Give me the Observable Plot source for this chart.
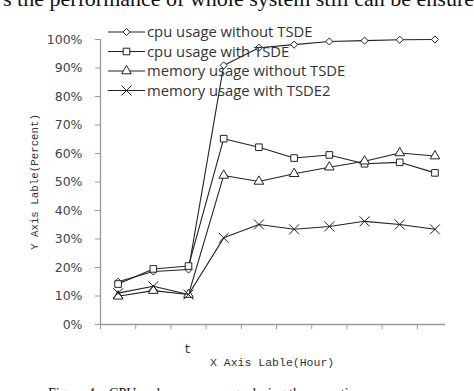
<!DOCTYPE html>
<html>
<head>
<meta charset="utf-8">
<script src="https://cdn.jsdelivr.net/npm/d3@7"></script>
<script src="https://cdn.jsdelivr.net/npm/@observablehq/plot@0.6"></script>
<style>
  html, body { margin: 0; padding: 0; background: #fff; }
  #wrap { position: relative; width: 474px; height: 391px; overflow: hidden; background: #fff; }
  #chart { position: absolute; left: 0; top: 0; }
  .abs { position: absolute; white-space: nowrap; line-height: 1; }
  #toptext { left: 3px; top: -12px; font-family: "Liberation Serif", serif; font-size: 22px; color: #111; }
  #caption { left: 48px; top: 387px; font-family: "Liberation Serif", serif; font-size: 14px; color: #111; }
  #tlabel { left: 184px; top: 344px; font-family: "Liberation Mono", monospace; font-size: 12px; color: #333; }
  #xlabel { left: 210px; top: 357px; font-family: "Liberation Mono", monospace; font-size: 11.5px; color: #333; }
  #ylabel { left: 35px; top: 182px; transform: translate(-50%, -50%) rotate(-90deg); font-family: "Liberation Mono", monospace; font-size: 10.8px; color: #333; }
  #legend { position: absolute; left: 0; top: 0; }
</style>
</head>
<body>
<div id="wrap">
  <div id="chart"></div>
  <div id="toptext" class="abs">s the performance of whole system still can be ensured</div>
  <div id="tlabel" class="abs">t</div>
  <div id="xlabel" class="abs">X Axis Lable(Hour)</div>
  <div id="ylabel" class="abs">Y Axis Lable(Percent)</div>
  <div id="caption" class="abs">Figure 4.&nbsp;&nbsp;&nbsp;CPU and memory usage during the operation</div>
</div>
<script>
// ---- data ----
const hours = [1, 2, 3, 4, 5, 6, 7, 8, 9, 10];
const seriesNames = ["cpu usage without TSDE", "cpu usage with TSDE", "memory usage without TSDE", "memory usage with TSDE2"];
const cpuWithout = [0.15, 0.186, 0.193, 0.909, 0.971, 0.982, 0.993, 0.996, 0.999, 1.0];
const cpuWith    = [0.142, 0.195, 0.205, 0.652, 0.622, 0.584, 0.595, 0.564, 0.569, 0.532];
const memWithout = [0.099, 0.119, 0.105, 0.523, 0.502, 0.529, 0.552, 0.573, 0.602, 0.591];
const memWith    = [0.11, 0.134, 0.105, 0.304, 0.351, 0.334, 0.344, 0.362, 0.351, 0.334];
const yTicks = [0, 0.1, 0.2, 0.3, 0.4, 0.5, 0.6, 0.7, 0.8, 0.9, 1.0];
const xTickBounds = [0.5, 1.5, 2.5, 3.5, 4.5, 5.5, 6.5, 7.5, 8.5, 9.5];

const seriesValues = [cpuWithout, cpuWith, memWithout, memWith];
const symbols = ["diamond2", "square2", "triangle2", "times"];
const radii = [3.2, 4.2, 4.6, 4.6];

const rows = [];
seriesValues.forEach((vals, si) => vals.forEach((v, i) => rows.push({series: seriesNames[si], si, hour: hours[i], value: v})));

const axisGray = "#9a9a9a";
const lineColor = "#222";

const marks = [
  Plot.axisY({ticks: yTicks, tickFormat: d3.format(".0%"), tickSize: 5, tickPadding: 13,
    stroke: axisGray, fill: "#444", fontSize: 12.5, fontFamily: "DejaVu Sans, sans-serif", label: null}),
  Plot.axisX({ticks: xTickBounds, tickFormat: () => "", tickSize: 5, stroke: axisGray, label: null}),
  Plot.ruleX([0.5], {y1: 0, y2: 1, stroke: axisGray, strokeWidth: 1.3}),
  Plot.ruleY([0], {x1: 0.5, x2: 10.3, stroke: axisGray, strokeWidth: 1.3}),
];
seriesNames.forEach((name, si) => {
  const d = rows.filter(r => r.si === si);
  marks.push(Plot.line(d, {x: "hour", y: "value", stroke: lineColor, strokeWidth: 1.1}));
  marks.push(Plot.dot(d, {x: "hour", y: "value", symbol: () => symbols[si], r: radii[si],
    stroke: lineColor, fill: si === 3 ? "none" : "white", strokeWidth: 1}));
});

const plot = Plot.plot({
  width: 474,
  height: 391,
  marginLeft: 100,
  marginRight: 29,
  marginTop: 39,
  marginBottom: 67,
  x: {type: "linear", domain: [0.5, 10.3], axis: null},
  y: {domain: [0, 1], axis: null},
  style: {background: "transparent", overflow: "visible"},
  marks
});
document.getElementById("chart").appendChild(plot);

// ---- legend (overlaid at top of plot area) ----
const legendRowsY = [32, 51.5, 71, 90.5];
const lg = d3.select("#wrap").append("svg").attr("id", "legend").attr("width", 474).attr("height", 110);
const d3sym = {diamond2: d3.symbolDiamond2, square2: d3.symbolSquare2, triangle2: d3.symbolTriangle2, times: d3.symbolTimes};
seriesNames.forEach((name, si) => {
  const y = legendRowsY[si];
  lg.append("line").attr("x1", 108).attr("x2", 145).attr("y1", y).attr("y2", y)
    .attr("stroke", lineColor).attr("stroke-width", 1.1);
  const r = radii[si];
  lg.append("path").attr("transform", `translate(126.5,${y})`)
    .attr("d", d3.symbol(d3sym[symbols[si]], r * r * Math.PI)())
    .attr("fill", si === 3 ? "none" : "white").attr("stroke", lineColor).attr("stroke-width", 1);
  lg.append("text").attr("x", 147).attr("y", y).attr("dy", "0.35em")
    .attr("font-family", "Open Sans, sans-serif").attr("font-size", 14.8).attr("fill", "#333")
    .text(name);
});
</script>
</body>
</html>
